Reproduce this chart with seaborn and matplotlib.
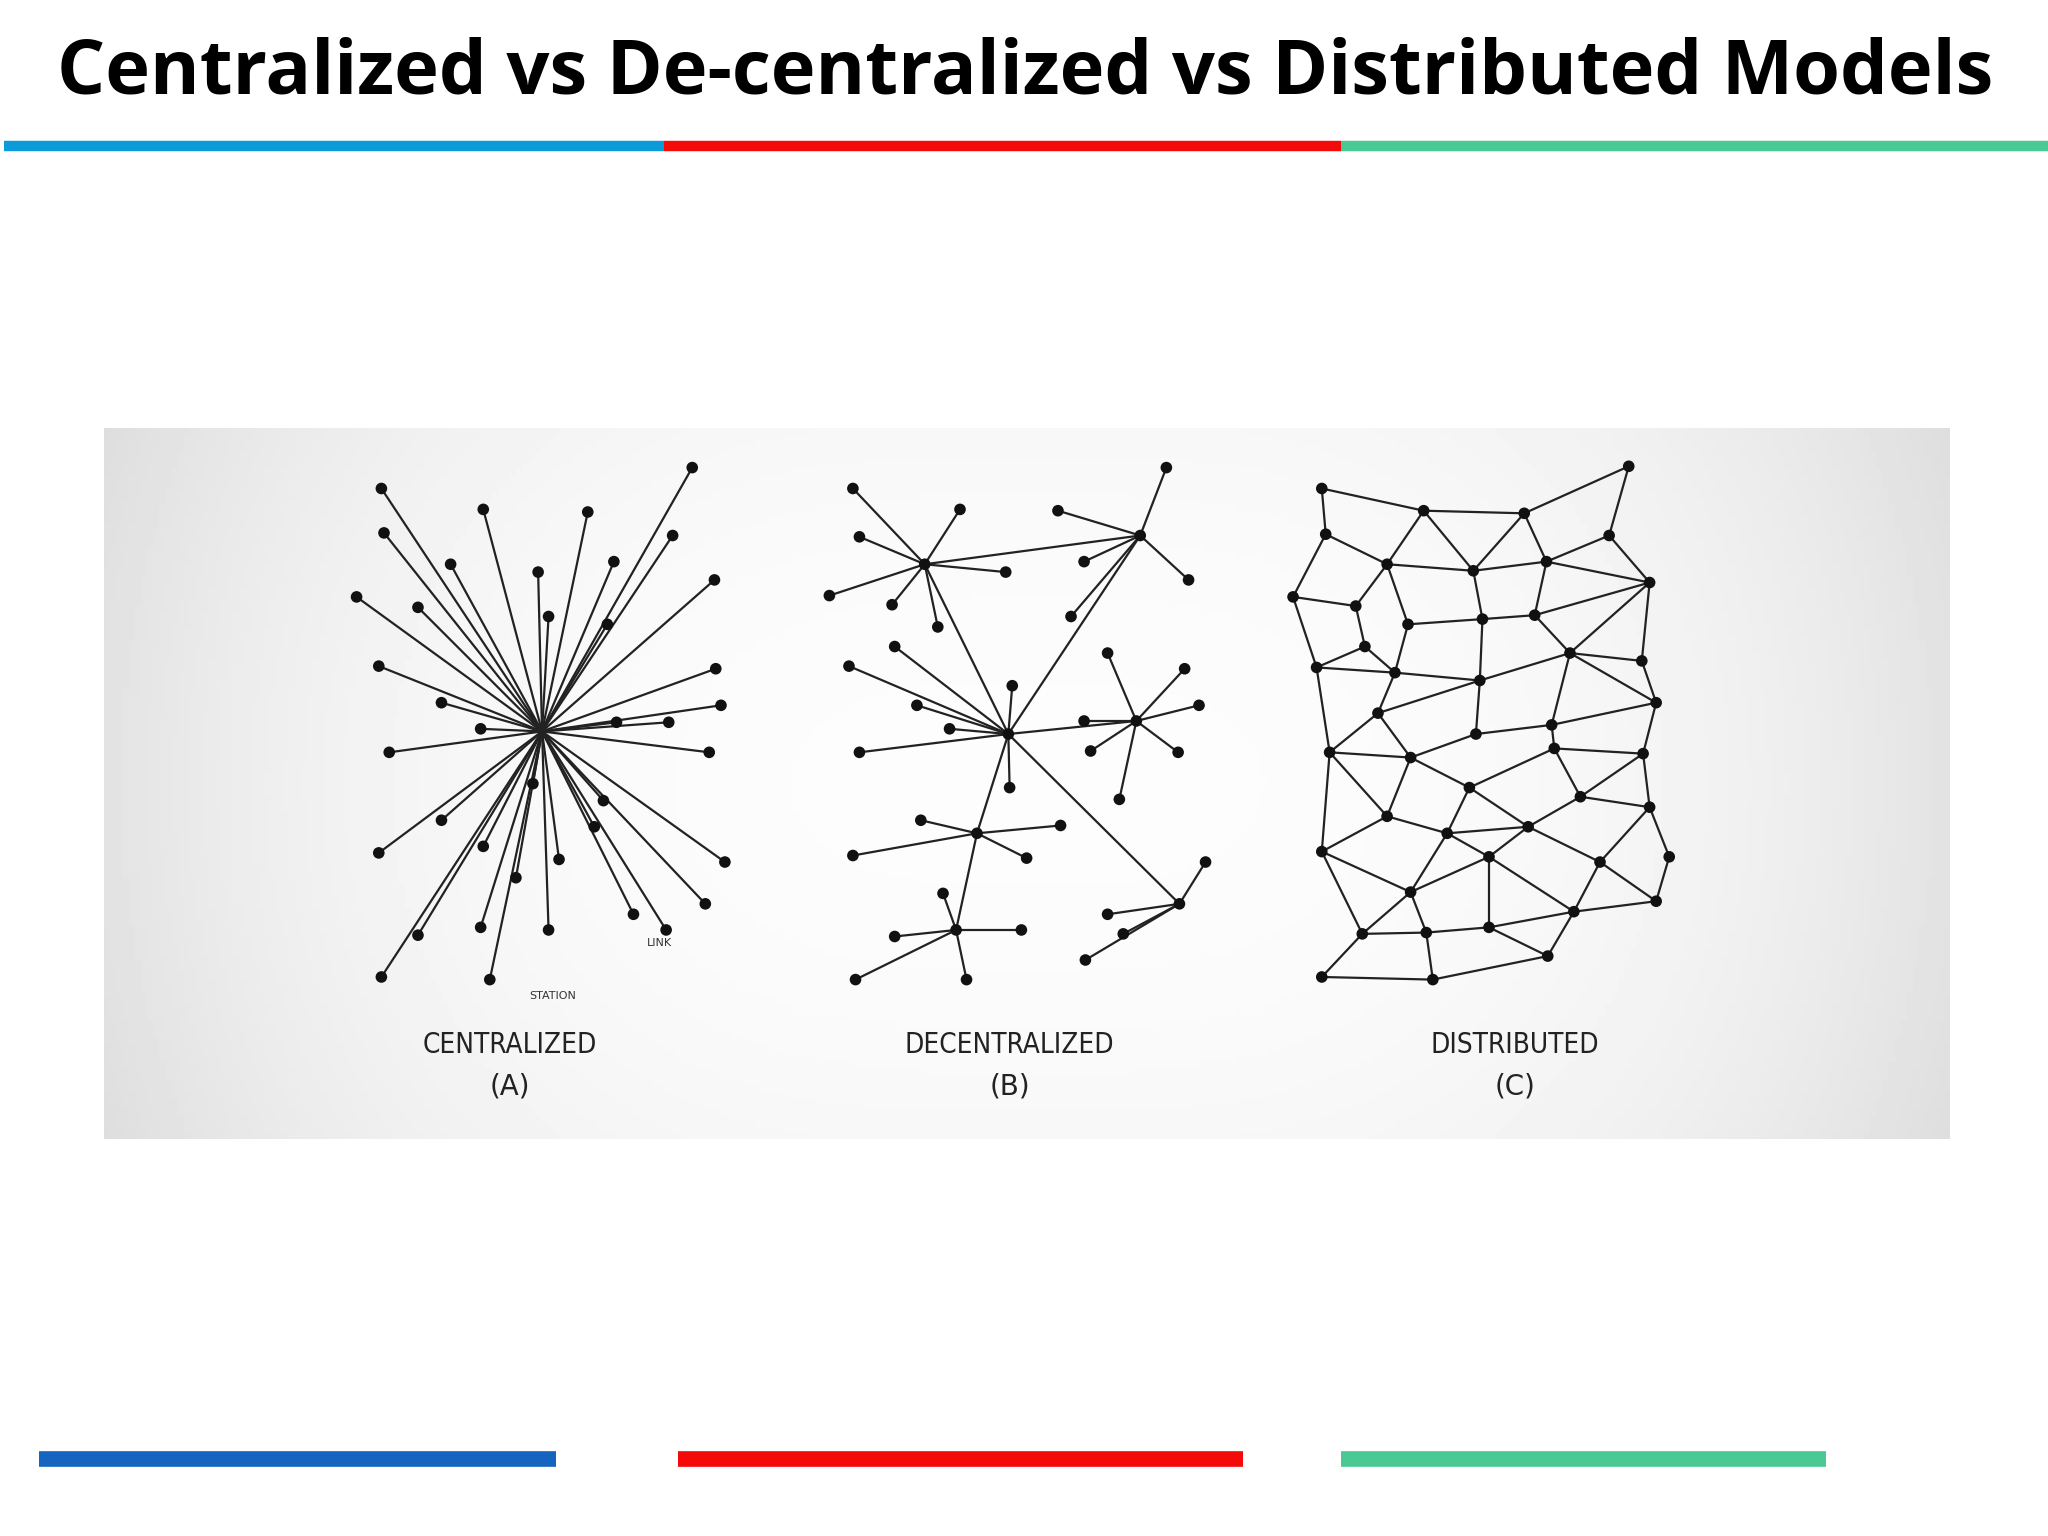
import numpy as np
import matplotlib
matplotlib.use("Agg")
import matplotlib.pyplot as plt
import seaborn as sns
import pandas as pd

TITLE = "Centralized vs De-centralized vs Distributed Models"
LABELS = [("CENTRALIZED", "(A)", 390), ("DECENTRALIZED", "(B)", 773), ("DISTRIBUTED", "(C)", 1160)]

# Centralized network
cen_hub = (415, 560)
cen_leaves = [(292,374),(370,390),(450,392),(530,358),(294,408),(345,432),(412,438),(470,430),
              (515,410),(273,457),(320,465),(420,472),(465,478),(547,444),(290,510),(338,538),
              (368,558),(548,512),(552,540),(512,553),(472,553),(298,576),(543,576),(462,613),
              (290,653),(338,628),(370,648),(428,658),(455,633),(555,660),(540,692),(320,716),
              (368,710),(420,712),(485,700),(510,712),(292,748),(375,750),(395,672),(408,600)]

# Decentralized network: hubs and their leaves
dec_hubs = {"A": (708,432), "B": (873,410), "C": (772,562), "D": (870,552),
            "E": (748,638), "F": (732,712), "G": (903,692)}
dec_leaves = {
    "A": [(653,374),(735,390),(658,411),(770,438),(635,456),(683,463),(718,480)],
    "B": [(810,391),(893,358),(910,444),(830,430),(820,472)],
    "C": [(650,510),(685,495),(702,540),(727,558),(658,576),(775,525),(773,603)],
    "D": [(848,500),(907,512),(918,540),(830,552),(835,575),(902,576),(857,612)],
    "E": [(705,628),(812,632),(653,655),(786,657)],
    "F": [(722,684),(685,717),(782,712),(655,750),(740,750)],
    "G": [(923,660),(848,700),(860,715),(831,735)],
}
dec_hub_links = [("A","B"),("B","C"),("A","C"),("C","D"),("C","G"),("C","E"),("E","F")]

# Distributed network
dis_nodes = [(1012,374),(1090,391),(1167,393),(1247,357),(1015,409),(1062,432),(1128,437),(1184,430),
             (1232,410),(990,457),(1038,464),(1078,478),(1135,474),(1175,471),(1263,446),(1045,495),
             (1202,500),(1257,506),(1008,511),(1068,515),(1133,521),(1268,538),(1055,546),(1130,562),
             (1188,555),(1018,576),(1080,580),(1190,573),(1258,577),(1125,603),(1210,610),(1062,625),
             (1108,638),(1170,633),(1263,618),(1012,652),(1140,656),(1225,660),(1278,656),(1080,683),
             (1205,698),(1268,690),(1043,715),(1092,714),(1140,710),(1185,732),(1012,748),(1097,750)]
dis_edges = [(0,1),(1,2),(2,3),(0,4),(4,5),(1,5),(1,6),(2,6),(2,7),(3,8),(7,8),(5,6),(6,7),(4,9),
             (9,10),(5,10),(5,11),(6,12),(7,13),(8,14),(7,14),(10,15),(11,12),(12,13),(13,14),(9,18),
             (15,18),(15,19),(11,19),(12,20),(13,16),(14,16),(14,17),(16,17),(18,19),(19,20),(20,16),
             (17,21),(16,21),(18,25),(19,22),(20,22),(20,23),(16,24),(21,28),(22,25),(22,26),(23,24),
             (23,26),(24,27),(24,21),(25,26),(26,29),(27,28),(27,29),(27,30),(28,30),(25,31),(26,31),
             (29,32),(29,33),(30,33),(30,34),(28,34),(25,35),(31,35),(31,32),(32,33),(33,36),(32,36),
             (33,37),(34,37),(34,38),(35,39),(32,39),(36,39),(36,40),(37,40),(37,41),(38,41),(35,42),
             (39,42),(39,43),(36,44),(40,44),(40,45),(41,40),(42,43),(43,44),(44,45),(42,46),(43,47),
             (46,47),(45,47)]

W, H = 1568, 1176
sns.set_theme(style="white")
fig = plt.figure(figsize=(20.48, 15.36), dpi=100)
ax = fig.add_axes([0, 0, 1, 1])
ax.set_xlim(0, W); ax.set_ylim(H, 0); ax.axis("off")
s = 2048 / W

gx = np.linspace(-1, 1, 300); gy = np.linspace(-1, 1, 120)
GX, GY = np.meshgrid(gx, gy)
g = 0.99 - 0.10 * (np.abs(GX) ** 3) - 0.02 * GY ** 2
ax.imshow(g, cmap="gray", vmin=0, vmax=1, extent=(80, 1493, 872, 328), aspect="auto", zorder=0)

ax.text(785, 57, TITLE, ha="center", va="center", fontsize=54.5, fontweight="bold",
        family="Open Sans", color="black")
lw_top = 8 * s * 0.72
for x0, x1, c in [(3, 508, "#0a9bd8"), (508, 1027, "#f50a0a"), (1027, 1568, "#4bc995")]:
    ax.plot([x0, x1], [112, 112], color=c, lw=lw_top, solid_capstyle="butt")
lw_bot = 12 * s * 0.72
for x0, x1, c in [(30, 426, "#1565c0"), (519, 952, "#f50a0a"), (1027, 1398, "#4bc995")]:
    ax.plot([x0, x1], [1117, 1117], color=c, lw=lw_bot, solid_capstyle="butt")

lk = dict(color="#222222", lw=1.6, zorder=2)
nodes = []
for p in cen_leaves:
    ax.plot([cen_hub[0], p[0]], [cen_hub[1], p[1]], **lk)
    nodes.append(p)
for h, lv in dec_leaves.items():
    hx, hy = dec_hubs[h]
    nodes.append((hx, hy))
    for p in lv:
        ax.plot([hx, p[0]], [hy, p[1]], **lk)
        nodes.append(p)
for a, b in dec_hub_links:
    ax.plot([dec_hubs[a][0], dec_hubs[b][0]], [dec_hubs[a][1], dec_hubs[b][1]], **lk)
for a, b in dis_edges:
    ax.plot([dis_nodes[a][0], dis_nodes[b][0]], [dis_nodes[a][1], dis_nodes[b][1]], **lk)
nodes += dis_nodes
df = pd.DataFrame(nodes, columns=["x", "y"])
sns.scatterplot(data=df, x="x", y="y", ax=ax, color="#111111", s=70, marker="o",
                edgecolor="none", zorder=3, legend=False)
ax.set_xlim(0, W); ax.set_ylim(H, 0); ax.axis("off")

ax.text(405, 765, "STATION", fontsize=8, color="#333333")
ax.text(495, 724, "LINK", fontsize=8, color="#333333")
for name, sub, x in LABELS:
    ax.text(x, 800, name, ha="center", va="center", fontsize=20, color="#222222",
            family="DejaVu Sans", fontstretch="condensed")
    ax.text(x, 832, sub, ha="center", va="center", fontsize=20, color="#222222")

fig.savefig("out.png", dpi=100, facecolor="white")
